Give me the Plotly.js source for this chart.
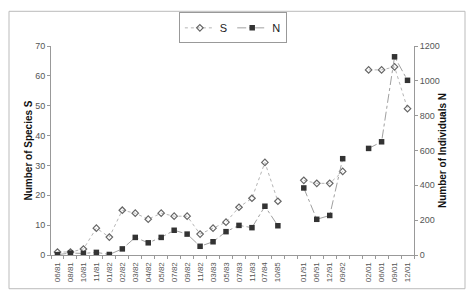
<!DOCTYPE html>
<html>
<head>
<meta charset="utf-8">
<script src="https://cdn.plot.ly/plotly-3.0.1.min.js"></script>
<style>html,body{margin:0;padding:0;background:#fff;}#chart{width:474px;height:301px;}</style>
</head>
<body>
<div id="chart"></div>
<script>
// Sampling dates (blank entries are empty gap slots on the category axis)
const dates = ["06/81","08/81","10/81","11/81","01/82","02/82","03/82","04/82","05/82","07/82","09/82","11/82","03/83","05/83","07/83","11/83","07/84","10/85"," ","01/91","06/91","12/91","09/92","  ","02/01","06/01","09/01","12/01"];
// Number of species S (left axis)
const speciesS = [1,1,2,9,6,15,14,12,14,13,13,7,9,11,16,19,31,18,null,25,24,24,28,null,62,62,63,49];
// Number of individuals N (right axis)
const individualsN = [2,11,9,15,3,35,101,70,101,142,120,50,76,134,170,157,280,168,null,385,205,227,553,null,612,650,1138,1003];

const font = "'Liberation Sans', Arial, sans-serif";

const traces = [
  {
    x: dates, y: speciesS, name: "S", type: "scatter", mode: "lines+markers",
    connectgaps: false,
    line: {color: "#b5b5b5", width: 1, dash: "dot"},
    marker: {symbol: "diamond-open", size: 5, color: "#666", line: {width: 1.2, color: "#666"}},
    yaxis: "y"
  },
  {
    x: dates, y: individualsN, name: "N", type: "scatter", mode: "lines+markers",
    connectgaps: false,
    line: {color: "#a0a0a0", width: 1, dash: "dashdot"},
    marker: {symbol: "square", size: 5.5, color: "#333"},
    yaxis: "y2"
  }
];

const layout = {
  width: 474, height: 301,
  margin: {l: 51, r: 60, t: 38, b: 46},
  paper_bgcolor: "#fff", plot_bgcolor: "#fff",
  font: {family: font, size: 9, color: "#555"},
  showlegend: true,
  legend: {
    orientation: "h", x: 0.501, xanchor: "center", y: 1.161, yanchor: "top",
    bordercolor: "#999", borderwidth: 1, bgcolor: "#fff",
    font: {family: font, size: 11, color: "#222"},
    itemwidth: 30, tracegroupgap: 0
  },
  xaxis: {
    type: "category", categoryorder: "array", categoryarray: dates,
    range: [-0.5, dates.length - 0.5],
    tickson: "boundaries", ticks: "outside", ticklen: 3, tickcolor: "#999",
    ticklabelstandoff: 3,
    tickangle: -90, tickfont: {family: font, size: 8, color: "#555"},
    showline: true, linecolor: "#999", linewidth: 1,
    showgrid: false, zeroline: false, fixedrange: true
  },
  yaxis: {
    range: [0, 70], dtick: 10, ticks: "outside", ticklen: 3, tickcolor: "#999",
    showline: true, linecolor: "#999", linewidth: 1,
    showgrid: false, zeroline: false,
    tickfont: {family: font, size: 9, color: "#555"},
    title: {text: "<b>Number of Species S</b>", font: {family: font, size: 10, color: "#111"}, standoff: 0}
  },
  yaxis2: {
    range: [0, 1200], dtick: 200, overlaying: "y", side: "right",
    ticks: "outside", ticklen: 3, tickcolor: "#999",
    showline: true, linecolor: "#999", linewidth: 1,
    showgrid: false, zeroline: false,
    tickfont: {family: font, size: 9, color: "#555"},
    title: {text: "<b>Number of Individuals N</b>", font: {family: font, size: 10, color: "#111"}, standoff: 0}
  },
  shapes: [
    {type: "rect", xref: "paper", yref: "paper", x0: -0.1157, x1: 1.1405, y0: -0.1613, y1: 1.166,
     line: {color: "#bbb", width: 1}, fillcolor: "rgba(0,0,0,0)", layer: "below"}
  ]
};

Plotly.newPlot("chart", traces, layout, {displayModeBar: false, staticPlot: true});
</script>
</body>
</html>
